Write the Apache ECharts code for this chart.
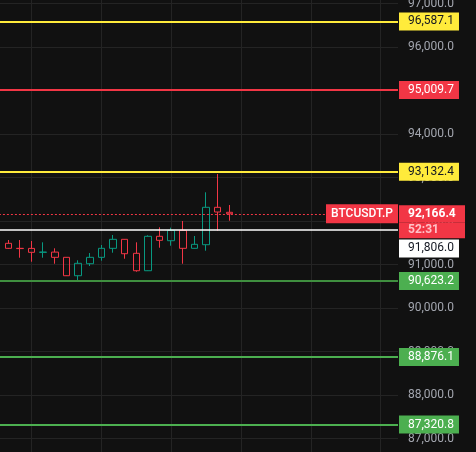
<!DOCTYPE html>
<html><head><meta charset="utf-8">
<script src="https://cdn.jsdelivr.net/npm/echarts@6/dist/echarts.min.js"></script>
<style>html,body{margin:0;padding:0;background:#111111;}#c{width:476px;height:452px;}</style>
</head><body><div id="c"></div>
<script>
const symbolName = 'BTCUSDT.P';
const countdown = '52:31';
const lastPrice = 92166.4;
const opens  = [91754, 91487, 91372, 91370, 91280, 91285, 91165, 90742, 91018, 91165, 91372, 91579, 91257, 90857, 91648, 91547, 91786, 91372, 91455, 92315, 92200];
const closes = [91487, 91372, 91366, 91280, 91286, 91165, 90742, 91027, 91165, 91372, 91579, 91248, 90857, 91648, 91556, 91786, 91372, 91464, 92315, 92207, 92166.4];
const lows   = [91460, 91360, 91156, 91064, 91156, 91018, 90735, 90637, 90965, 91087, 91271, 91133, 90834, 90850, 91386, 91432, 91018, 91365, 91317, 91777, 92007];
const highs  = [91790, 91563, 91563, 91540, 91510, 91372, 91170, 91096, 91264, 91448, 91678, 91585, 91510, 91671, 91855, 91847, 92000, 91655, 92660, 93080, 92368];
const levelValues = [96587.1, 95009.7, 93132.4, 91806.0, 90623.2, 88876.1, 87320.8];
const yMin = 86000, yMax = 98000, yStep = 1000;
const slotCount = 35;
const categories = [];
for (let i = 0; i < slotCount; i++) categories.push(String(i));

const RED = '#f23645', TEAL = '#089981', YEL = '#ffeb3b', GRN = '#4caf50';
// tagDrop: extra spacer (px) pushing the tag below its line to avoid the price tag
const levelStyles = [
  {line: YEL, bg: YEL, text: '#131722', width: 2, tagDrop: 0},
  {line: RED, bg: RED, text: '#ffffff', width: 2, tagDrop: 0},
  {line: YEL, bg: YEL, text: '#131722', width: 2, tagDrop: 0},
  {line: '#ffffff', bg: '#ffffff', text: '#131722', width: 1.5, tagDrop: 38},
  {line: '#3f8f3f', bg: GRN, text: '#ffffff', width: 2, tagDrop: 0},
  {line: GRN, bg: GRN, text: '#ffffff', width: 2, tagDrop: 0},
  {line: GRN, bg: GRN, text: '#ffffff', width: 2, tagDrop: 0}
];
const fmt = v => v.toLocaleString('en-US', {minimumFractionDigits: 1, maximumFractionDigits: 1});
const FONT = 'Roboto, sans-serif';

const candleData = opens.map((o, i) => [o, closes[i], lows[i], highs[i]]);

const levelLines = levelValues.map((v, i) => {
  const st = levelStyles[i];
  const label = st.tagDrop ? {
    show: true, position: 'end', distance: 1, fontFamily: FONT, fontSize: 12,
    formatter: '{z| }\n{w|' + fmt(v) + '}',
    rich: {
      z: {height: st.tagDrop, lineHeight: st.tagDrop, fontSize: 12},
      w: {backgroundColor: st.bg, color: st.text, fontSize: 12, height: 18, lineHeight: 18, padding: [0, 5, 0, 9], fontFamily: FONT}
    }
  } : {
    show: true, position: 'end', distance: 1,
    formatter: fmt(v),
    backgroundColor: st.bg, color: st.text,
    fontSize: 12, lineHeight: 14, padding: [2, 5, 2, 9], fontFamily: FONT
  };
  return {yAxis: v, lineStyle: {color: st.line, width: st.width, type: 'solid'}, label: label};
});

const priceLine = {
  yAxis: lastPrice,
  lineStyle: {color: RED, width: 1, type: [2, 2]},
  label: {
    show: true, position: 'end', distance: 1,
    formatter: '{z| }\n{a|' + fmt(lastPrice) + '}\n{b|' + countdown + '}',
    fontFamily: FONT, fontSize: 12,
    rich: {
      z: {height: 16, lineHeight: 16, fontSize: 12},
      a: {backgroundColor: RED, color: '#ffffff', fontSize: 12, fontWeight: 'bold', width: 52, height: 17, lineHeight: 17, padding: [0, 5, 0, 9], fontFamily: FONT},
      b: {backgroundColor: RED, color: '#ffc2c8', fontSize: 12, fontWeight: 'bold', width: 52, height: 16, lineHeight: 16, padding: [0, 5, 0, 9], fontFamily: FONT}
    }
  }
};
const symbolTag = {
  yAxis: lastPrice,
  lineStyle: {width: 0},
  label: {
    show: true, position: 'end', distance: 0, align: 'right',
    formatter: symbolName,
    backgroundColor: RED, color: '#ffffff', fontWeight: 500,
    fontSize: 12, lineHeight: 15, padding: [2, 5, 2, 5], fontFamily: FONT
  }
};

const chart = echarts.init(document.getElementById('c'), null, {renderer: 'canvas'});
chart.setOption({
  animation: false,
  backgroundColor: '#111111',
  textStyle: {fontFamily: FONT},
  grid: {left: -9.1, right: 78, top: -40, bottom: -30, containLabel: false, outerBoundsMode: 'none'},
  xAxis: {
    type: 'category', data: categories, boundaryGap: true,
    axisLine: {show: false}, axisTick: {show: false}, axisLabel: {show: false},
    splitLine: {show: true, alignWithLabel: true, interval: (idx) => idx % 6 === 3,
      lineStyle: {color: '#242424', width: 1}}
  },
  yAxis: {
    type: 'value', position: 'right', min: yMin, max: yMax, interval: yStep, scale: true,
    axisLine: {show: false}, axisTick: {show: false},
    axisLabel: {margin: 10, color: '#a3a6af', fontSize: 12, fontFamily: FONT, formatter: v => fmt(v)},
    splitLine: {show: true, lineStyle: {color: '#242424', width: 1}}
  },
  series: [{
    type: 'candlestick',
    data: candleData,
    barWidth: 7,
    itemStyle: {color: 'transparent', color0: 'transparent', borderColor: TEAL, borderColor0: RED, borderWidth: 1},
    markLine: {
      silent: true, symbol: ['none', 'none'], animation: false,
      data: levelLines.concat([priceLine, symbolTag])
    }
  }]
});
</script></body></html>
